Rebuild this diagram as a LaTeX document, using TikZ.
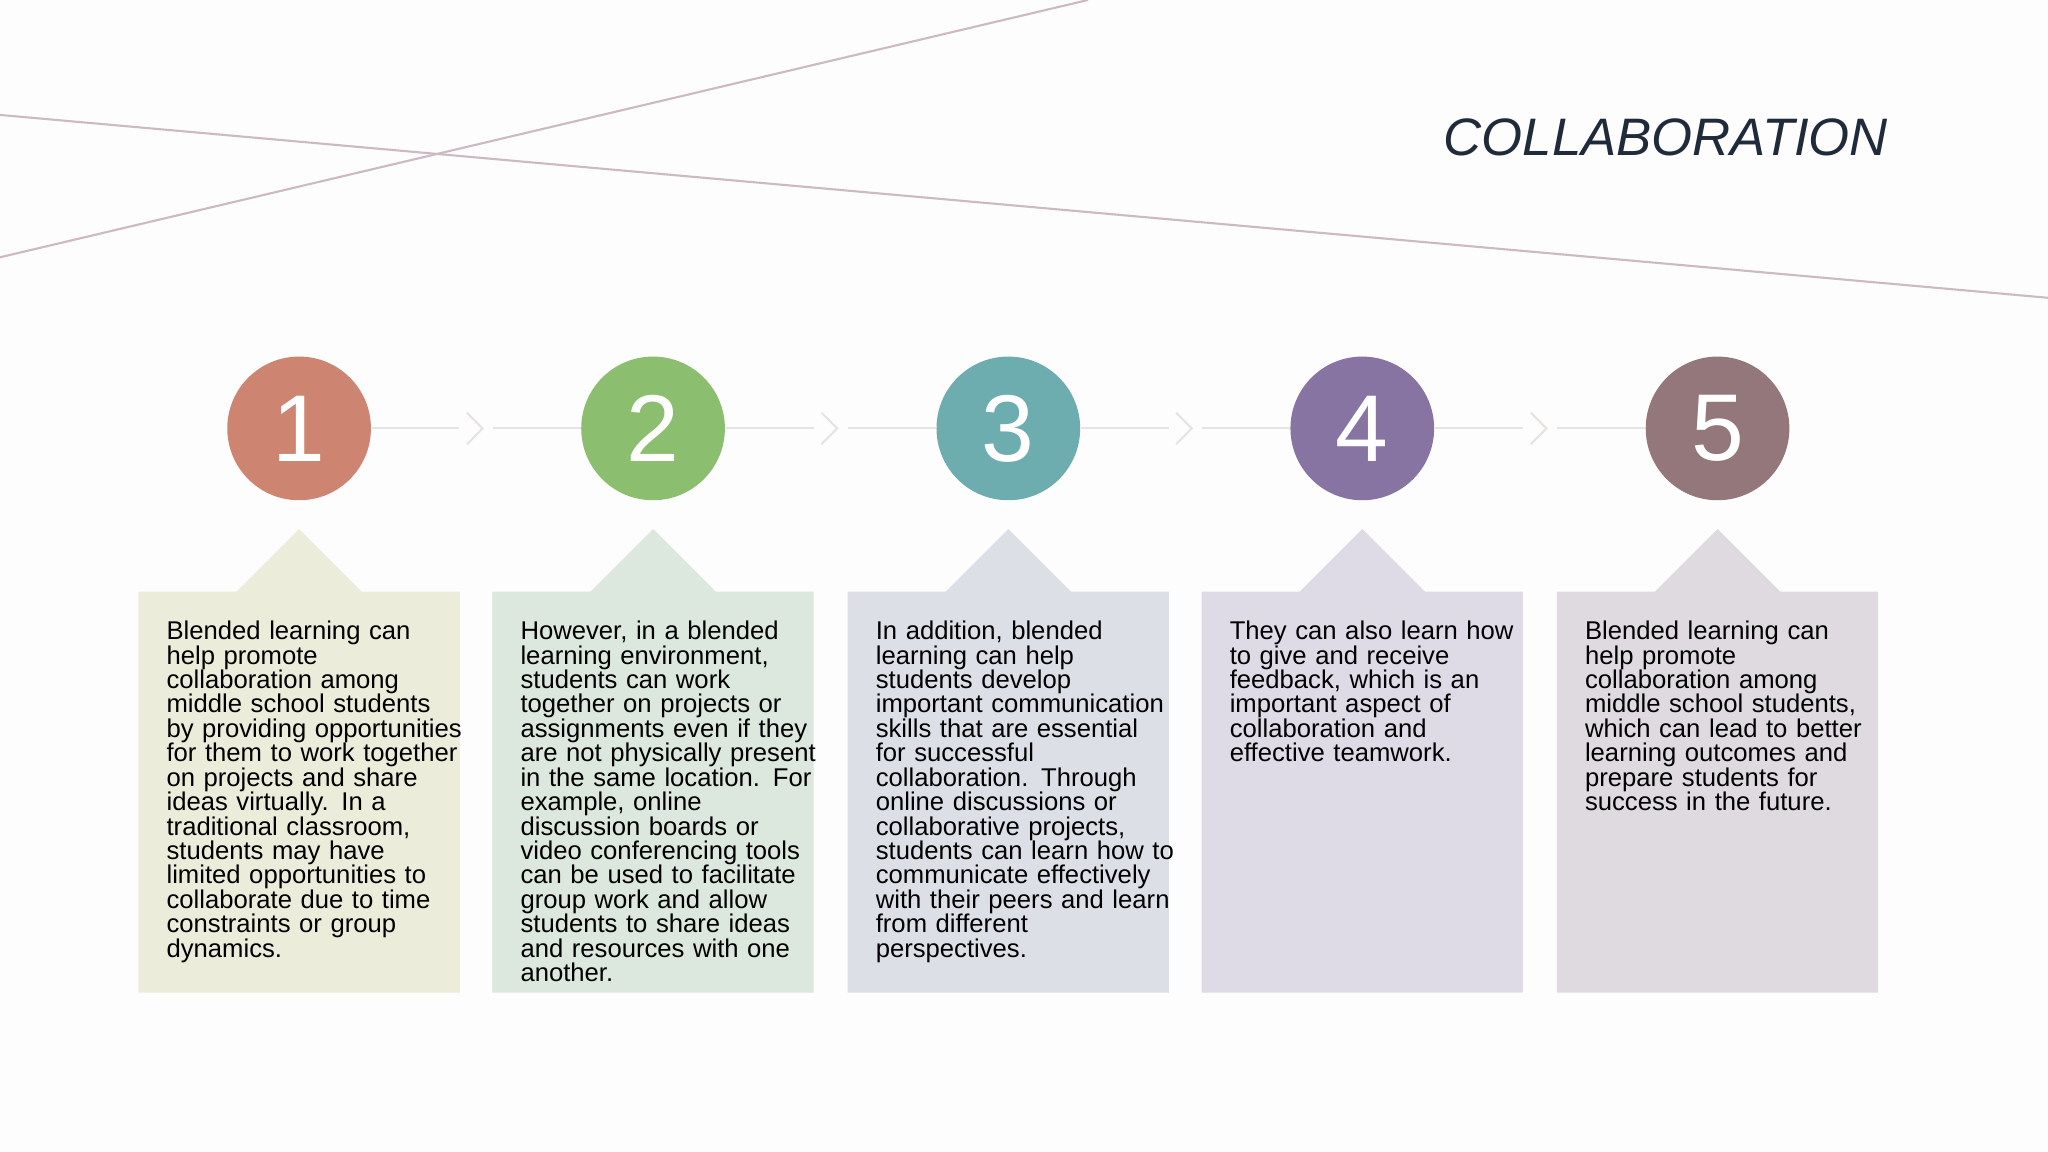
\documentclass[tikz,border=0pt]{standalone}
\usepackage{fontspec}
\setmainfont{Liberation Sans}
\definecolor{bg}{HTML}{FDFDFD}
\definecolor{deco}{HTML}{CDB9C3}
\definecolor{c1}{HTML}{CD8470}
\definecolor{c2}{HTML}{8BBE6E}
\definecolor{c3}{HTML}{6DADB0}
\definecolor{c4}{HTML}{8874A3}
\definecolor{c5}{HTML}{93777A}
\definecolor{b1}{HTML}{ECECDA}
\definecolor{b2}{HTML}{DCE7DD}
\definecolor{b3}{HTML}{DCE0E6}
\definecolor{b4}{HTML}{DEDAE6}
\definecolor{b5}{HTML}{DEDADF}
\definecolor{conn}{HTML}{E6E3E0}
\definecolor{title}{HTML}{1F2A3A}
\tikzset{
  num/.style={circle,minimum size=110*0.0130612cm,inner sep=0pt,text=white,font=\fontsize{27}{27}\selectfont},
  body/.style={anchor=north west,inner sep=0pt,align=left,text width=3.2cm,font=\fontsize{7.3}{6.95}\selectfont,text=black},
  link/.style={draw=conn,line width=0.6pt},
}
\begin{document}
\begin{tikzpicture}[x=0.0130612cm,y=-0.0130612cm]
\fill[bg] (0,0) rectangle (1568,882);
\useasboundingbox (0,0) rectangle (1568,882);
\coordinate (la) at (0,88); \coordinate (lb) at (1568,228);
\coordinate (lc) at (0,197); \coordinate (ld) at (833,0);
\draw[deco,line width=0.6pt] (la)--(lb);
\draw[deco,line width=0.6pt] (lc)--(ld);
\node[anchor=east,font=\fontsize{15}{15}\selectfont\itshape,text=title] (ttl) at (1455,105) {COLLABORATION};
\foreach \i/\x/\c/\b in {1/229/c1/b1,2/500/c2/b2,3/772/c3/b3,4/1043/c4/b4,5/1315/c5/b5}{
  \fill[\b] (\x-123,453) -- (\x-48,453) -- (\x,405) -- (\x+48,453) -- (\x+123,453) -- (\x+123,760) -- (\x-123,760) -- cycle;
  \node[num,fill=\c] (n\i) at (\x,328) {\i};
  \coordinate (t\i) at (\x-102,475);
}
\foreach \a/\b in {1/2,2/3,3/4,4/5}{
  \path (n\a.east) -- (n\b.west) coordinate[pos=0.42] (e\a) coordinate[pos=0.58] (s\a) coordinate[pos=0.5] (m\a);
  \draw[link] (n\a.east) -- (e\a);
  \draw[link] (s\a) -- (n\b.west);
  \draw[link] ([xshift=-7*0.0130612cm,yshift=12*0.0130612cm]m\a) -- ([xshift=5*0.0130612cm]m\a) -- ([xshift=-7*0.0130612cm,yshift=-12*0.0130612cm]m\a);
}
\node[body] (x1) at (t1) {Blended learning can\\help promote\\collaboration among\\middle school students\\by providing opportunities\\for them to work together\\on projects and share\\ideas virtually. In a\\traditional classroom,\\students may have\\limited opportunities to\\collaborate due to time\\constraints or group\\dynamics.};
\node[body] (x2) at (t2) {However, in a blended\\learning environment,\\students can work\\together on projects or\\assignments even if they\\are not physically present\\in the same location. For\\example, online\\discussion boards or\\video conferencing tools\\can be used to facilitate\\group work and allow\\students to share ideas\\and resources with one\\another.};
\node[body] (x3) at (t3) {In addition, blended\\learning can help\\students develop\\important communication\\skills that are essential\\for successful\\collaboration. Through\\online discussions or\\collaborative projects,\\students can learn how to\\communicate effectively\\with their peers and learn\\from different\\perspectives.};
\node[body] (x4) at (t4) {They can also learn how\\to give and receive\\feedback, which is an\\important aspect of\\collaboration and\\effective teamwork.};
\node[body] (x5) at (t5) {Blended learning can\\help promote\\collaboration among\\middle school students,\\which can lead to better\\learning outcomes and\\prepare students for\\success in the future.};
\end{tikzpicture}
\end{document}
